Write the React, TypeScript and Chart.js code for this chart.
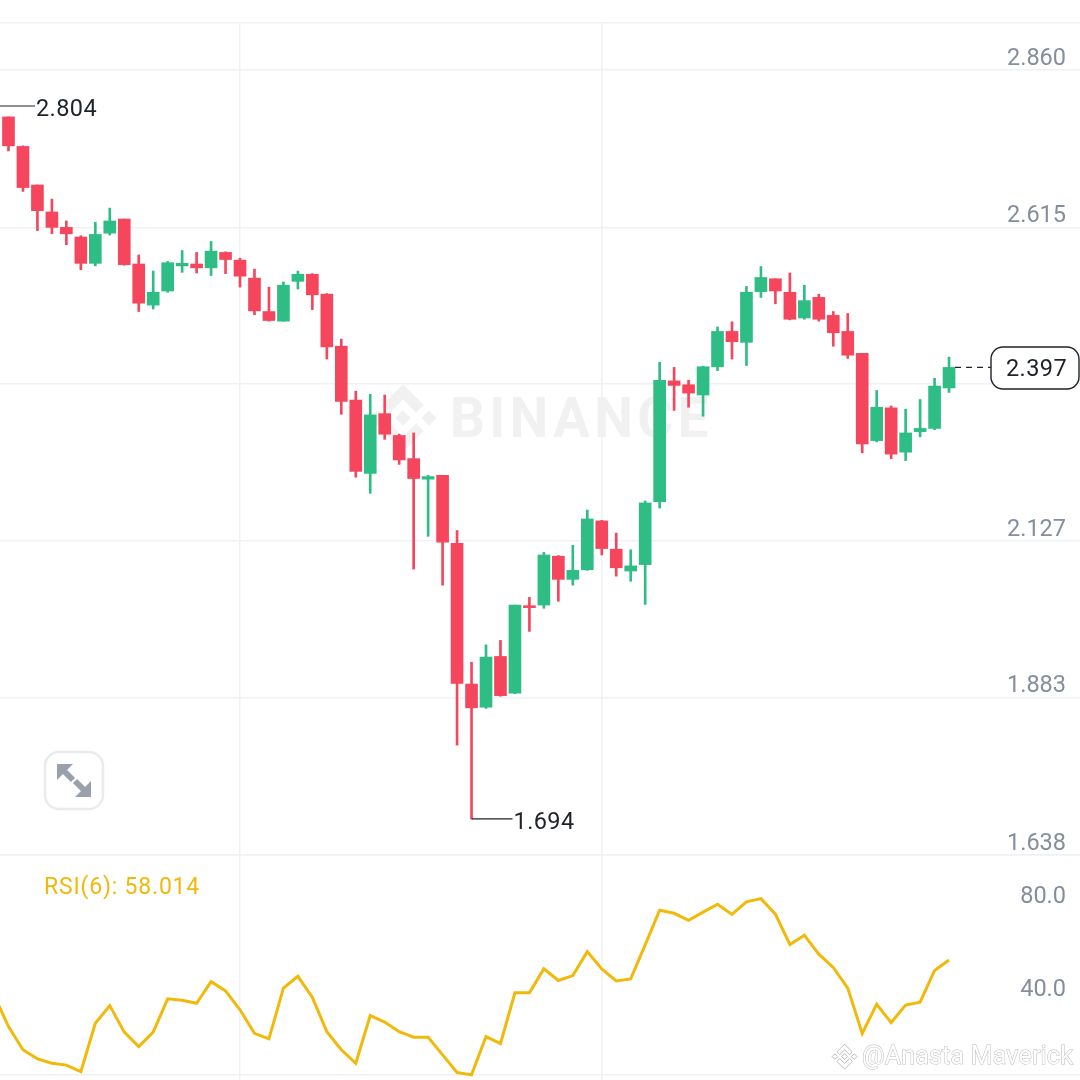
import React, { useEffect, useRef } from 'react';
import Chart from 'chart.js/auto';

// price candles
const opens = [2.787, 2.741, 2.681, 2.639, 2.615, 2.600, 2.559, 2.606, 2.628, 2.558, 2.494, 2.516, 2.555, 2.558, 2.552, 2.576, 2.564, 2.536, 2.484, 2.469, 2.531, 2.542, 2.511, 2.430, 2.346, 2.232, 2.325, 2.291, 2.255, 2.223, 2.229, 2.123, 1.904, 1.868, 1.947, 1.890, 2.026, 2.027, 2.103, 2.067, 2.082, 2.158, 2.114, 2.080, 2.090, 2.188, 2.376, 2.370, 2.354, 2.398, 2.453, 2.436, 2.515, 2.535, 2.514, 2.474, 2.506, 2.478, 2.453, 2.419, 2.283, 2.334, 2.265, 2.297, 2.302, 2.365];
const closes = [2.742, 2.677, 2.641, 2.615, 2.605, 2.559, 2.604, 2.625, 2.557, 2.497, 2.514, 2.560, 2.559, 2.552, 2.578, 2.565, 2.539, 2.485, 2.470, 2.525, 2.542, 2.510, 2.429, 2.344, 2.235, 2.323, 2.293, 2.253, 2.224, 2.227, 2.125, 1.905, 1.867, 1.946, 1.886, 2.027, 2.023, 2.105, 2.067, 2.081, 2.161, 2.115, 2.085, 2.088, 2.186, 2.377, 2.369, 2.357, 2.398, 2.453, 2.437, 2.514, 2.537, 2.516, 2.472, 2.501, 2.472, 2.451, 2.416, 2.278, 2.335, 2.262, 2.295, 2.302, 2.368, 2.397];
const highs = [2.787, 2.742, 2.681, 2.659, 2.625, 2.602, 2.623, 2.645, 2.628, 2.572, 2.547, 2.562, 2.579, 2.576, 2.593, 2.577, 2.567, 2.550, 2.522, 2.530, 2.547, 2.543, 2.512, 2.441, 2.360, 2.355, 2.354, 2.293, 2.295, 2.229, 2.229, 2.143, 1.938, 1.965, 1.972, 2.027, 2.039, 2.109, 2.104, 2.120, 2.175, 2.159, 2.139, 2.113, 2.189, 2.405, 2.397, 2.377, 2.399, 2.460, 2.468, 2.523, 2.554, 2.535, 2.544, 2.525, 2.511, 2.484, 2.481, 2.419, 2.361, 2.337, 2.332, 2.347, 2.380, 2.413];
const lows = [2.734, 2.671, 2.610, 2.605, 2.588, 2.549, 2.555, 2.603, 2.556, 2.484, 2.488, 2.514, 2.545, 2.544, 2.540, 2.543, 2.522, 2.479, 2.469, 2.469, 2.519, 2.487, 2.410, 2.324, 2.226, 2.201, 2.285, 2.246, 2.083, 2.134, 2.058, 1.809, 1.694, 1.866, 1.885, 1.889, 1.986, 2.022, 2.033, 2.058, 2.081, 2.105, 2.072, 2.064, 2.028, 2.178, 2.330, 2.335, 2.321, 2.392, 2.410, 2.400, 2.506, 2.496, 2.471, 2.472, 2.469, 2.430, 2.411, 2.264, 2.281, 2.255, 2.252, 2.289, 2.300, 2.358];

// RSI(6); the first value belongs to the candle just left of the frame
const rsiValues = [42.9, 29.4, 19.4, 15.5, 13.6, 12.8, 10.0, 30.8, 38.4, 27.0, 20.8, 27.0, 41.3, 40.7, 39.4, 48.7, 44.7, 36.6, 26.5, 24.1, 45.9, 51.0, 41.9, 27.2, 19.4, 13.6, 34.1, 31.3, 27.2, 24.8, 24.8, 17.2, 9.6, 8.6, 25.1, 22.1, 43.9, 43.9, 54.2, 49.2, 51.3, 61.6, 54.2, 49.0, 49.9, 64.5, 79.4, 78.1, 75.1, 78.6, 82.0, 77.6, 83.0, 84.4, 77.7, 64.7, 68.7, 60.5, 54.8, 45.9, 26.4, 39.0, 31.1, 38.6, 39.9, 53.5, 58.0];

const priceTicks = [2.9332, 2.86, 2.615, 2.371, 2.127, 1.883, 1.638];
const rsiTicks = [103.2, 80, 40, 8.6];
const timeTicks = [16, 41];

const highPrice = { index: -1, value: 2.804, label: '2.804' };
const lowPrice = { index: 32, value: 1.694, label: '1.694' };
const lastPrice = { index: 65, value: 2.397, label: '2.397' };

const UP = '#2EBD85';
const DOWN = '#F6465D';
const GRID = '#EFF1F4';
const AXIS_TEXT = '#848E9C';
const DARK = '#1E2329';
const YELLOW = '#F0B90B';
const FONT = 'Roboto';

const logoTop = new Path2D('M38.73 53.2L63 28.93l24.26 24.26 14.11-14.11L63 .69 24.62 39.09z');
const logoBottom = new Path2D('M38.73 72.8L63 97.07l24.26-24.26 14.11 14.11L63 125.31 24.62 86.91z');
const logoLeft = new Path2D('M.68 63l14.11-14.11L28.9 63 14.79 77.11z');
const logoRight = new Path2D('M97.1 63l14.11-14.11L125.32 63l-14.11 14.11z');
const logoMid = new Path2D('M48.7 63L63 48.7 77.3 63 63 77.3z');
const logoParts = [logoTop, logoBottom, logoLeft, logoRight, logoMid];

const upOrDown = (i: number) => (closes[i] >= opens[i] ? UP : DOWN);

// mirrored labels sit inside the plot, so the axis itself takes no room
const noAxisWidth = (axis: any) => {
    axis.width = 0;
};

const watermark = {
    id: 'watermark',
    beforeDatasetsDraw(chart: any) {
        const { ctx } = chart;
        ctx.save();
        ctx.fillStyle = '#F1F1F2';
        ctx.translate(369, 384);
        ctx.scale(0.54, 0.54);
        logoParts.forEach((p) => ctx.fill(p));
        ctx.restore();

        ctx.save();
        ctx.fillStyle = '#F1F1F2';
        ctx.font = `bold 55px ${FONT}`;
        ctx.letterSpacing = '4.2px';
        ctx.textBaseline = 'middle';
        ctx.fillText('BINANCE', 450, 423);
        ctx.restore();
    },
};

const overlays = {
    id: 'overlays',
    afterDatasetsDraw(chart: any) {
        const { ctx, scales } = chart;
        const x = scales.x;
        const y = scales.yPrice;

        ctx.save();
        ctx.font = `23.5px ${FONT}`;
        ctx.textBaseline = 'middle';
        ctx.letterSpacing = '0.4px';

        // highest / lowest price markers
        const hy = y.getPixelForValue(highPrice.value);
        ctx.strokeStyle = DARK;
        ctx.lineWidth = 1.2;
        ctx.beginPath();
        ctx.moveTo(x.getPixelForValue(highPrice.index), hy);
        ctx.lineTo(35, hy);
        ctx.stroke();
        ctx.fillStyle = DARK;
        ctx.fillText(highPrice.label, 36, hy + 4);

        const ly = y.getPixelForValue(lowPrice.value);
        const lx = x.getPixelForValue(lowPrice.index);
        ctx.beginPath();
        ctx.moveTo(lx, ly);
        ctx.lineTo(lx + 41, ly);
        ctx.stroke();
        ctx.fillText(lowPrice.label, lx + 42, ly + 4);

        // last price tag
        const ty = y.getPixelForValue(lastPrice.value);
        ctx.setLineDash([6, 5]);
        ctx.beginPath();
        ctx.moveTo(x.getPixelForValue(lastPrice.index) + 6, ty);
        ctx.lineTo(991, ty);
        ctx.stroke();
        ctx.setLineDash([]);
        ctx.fillStyle = '#fff';
        ctx.strokeStyle = DARK;
        ctx.lineWidth = 1.4;
        ctx.beginPath();
        ctx.roundRect(991, 347, 88, 42, 12);
        ctx.fill();
        ctx.stroke();
        ctx.fillStyle = DARK;
        ctx.fillText(lastPrice.label, 1006, ty + 3);

        // indicator title
        ctx.fillStyle = YELLOW;
        ctx.font = `23px ${FONT}`;
        ctx.letterSpacing = '0.8px';
        ctx.fillText('RSI(6): 58.014', 44, 888);

        // expand button
        ctx.fillStyle = '#fff';
        ctx.strokeStyle = '#E9ECEF';
        ctx.lineWidth = 2.5;
        ctx.beginPath();
        ctx.roundRect(45, 752, 58, 57, 14);
        ctx.fill();
        ctx.stroke();
        ctx.fillStyle = '#9AA1AA';
        ctx.strokeStyle = '#9AA1AA';
        ctx.lineWidth = 6;
        [[57, 764, 1], [91, 797, -1]].forEach(([px, py, d]) => {
            ctx.beginPath();
            ctx.moveTo(px, py);
            ctx.lineTo(px + 16 * d, py);
            ctx.lineTo(px, py + 16 * d);
            ctx.closePath();
            ctx.fill();
            ctx.beginPath();
            ctx.moveTo(px + 6 * d, py + 6 * d);
            ctx.lineTo(px + 16 * d, py + 16 * d);
            ctx.stroke();
        });

        // author stamp
        ctx.font = `25px ${FONT}`;
        ctx.letterSpacing = '0.2px';
        ctx.lineWidth = 1;
        ctx.strokeStyle = '#B8BBBF';
        ctx.fillStyle = '#fff';
        ctx.strokeText('@Anasta Maverick', 862, 1058);
        ctx.fillText('@Anasta Maverick', 862, 1058);
        ctx.translate(832, 1044);
        ctx.scale(0.2, 0.2);
        ctx.lineWidth = 5;
        ctx.strokeStyle = '#B8BBBF';
        logoParts.forEach((p) => ctx.stroke(p));
        ctx.restore();
    },
};

const App: React.FC = () => {
    const chartRef = useRef<HTMLCanvasElement>(null);

    useEffect(() => {
        document.body.style.margin = '0';
        if (!chartRef.current) return;

        const indexes = opens.map((_, i) => i);
        const chart = new Chart(chartRef.current, {
            type: 'bar',
            data: {
                datasets: [
                    {
                        label: 'body',
                        data: indexes.map((i) => ({ x: i, y: [opens[i], closes[i]] })),
                        backgroundColor: indexes.map(upOrDown),
                        barThickness: 12,
                        grouped: false,
                        yAxisID: 'yPrice',
                    },
                    {
                        label: 'wick',
                        data: indexes.map((i) => ({ x: i, y: [lows[i], highs[i]] })),
                        backgroundColor: indexes.map(upOrDown),
                        barThickness: 2,
                        grouped: false,
                        yAxisID: 'yPrice',
                    },
                    {
                        type: 'line',
                        label: 'RSI(6)',
                        data: rsiValues.map((v, i) => ({ x: i - 1, y: v })),
                        borderColor: YELLOW,
                        borderWidth: 3,
                        pointRadius: 0,
                        tension: 0,
                        yAxisID: 'yRsi',
                    },
                ],
            } as any,
            options: {
                animation: false,
                responsive: false,
                devicePixelRatio: 1,
                layout: { padding: { top: 23 } },
                plugins: { legend: { display: false }, tooltip: { enabled: false } },
                scales: {
                    x: {
                        type: 'linear',
                        min: -0.587,
                        max: 74.05,
                        offset: false,
                        afterBuildTicks: (axis: any) => {
                            axis.ticks = timeTicks.map((value) => ({ value }));
                        },
                        ticks: { display: false },
                        border: { display: false },
                        grid: { color: GRID, lineWidth: 1.5, offset: false, drawTicks: false },
                    },
                    yPrice: {
                        type: 'linear',
                        position: 'right',
                        stack: 'panes',
                        stackWeight: 832,
                        min: 1.638,
                        max: 2.9332,
                        afterBuildTicks: (axis: any) => {
                            axis.ticks = priceTicks.map((value) => ({ value }));
                        },
                        afterFit: noAxisWidth,
                        ticks: {
                            mirror: true,
                            padding: -14,
                            labelOffset: -11,
                            autoSkip: false,
                            color: AXIS_TEXT,
                            font: { family: FONT, size: 23.5 },
                            callback: (v: any) => (v > 2.9 ? '' : Number(v).toFixed(3)),
                        },
                        border: { display: false },
                        grid: { drawTicks: false, lineWidth: 1.5, color: GRID },
                    },
                    yRsi: {
                        type: 'linear',
                        position: 'right',
                        stack: 'panes',
                        stackWeight: 225,
                        min: 6.45,
                        max: 103.2,
                        afterBuildTicks: (axis: any) => {
                            axis.ticks = rsiTicks.map((value) => ({ value }));
                        },
                        afterFit: noAxisWidth,
                        ticks: {
                            mirror: true,
                            padding: -14,
                            labelOffset: -12,
                            autoSkip: false,
                            color: AXIS_TEXT,
                            font: { family: FONT, size: 23.5 },
                            callback: (v: any) => (v === 80 || v === 40 ? Number(v).toFixed(1) : ''),
                        },
                        border: { display: false },
                        grid: {
                            drawTicks: false,
                            lineWidth: 1.5,
                            color: (c: any) => (c.tick && (c.tick.value === 80 || c.tick.value === 40) ? 'transparent' : GRID),
                        },
                    },
                },
            } as any,
            plugins: [watermark, overlays],
        });

        return () => {
            chart.destroy();
        };
    }, []);

    return <canvas ref={chartRef} width={1080} height={1080} style={{ display: 'block' }} />;
};

export default App;
